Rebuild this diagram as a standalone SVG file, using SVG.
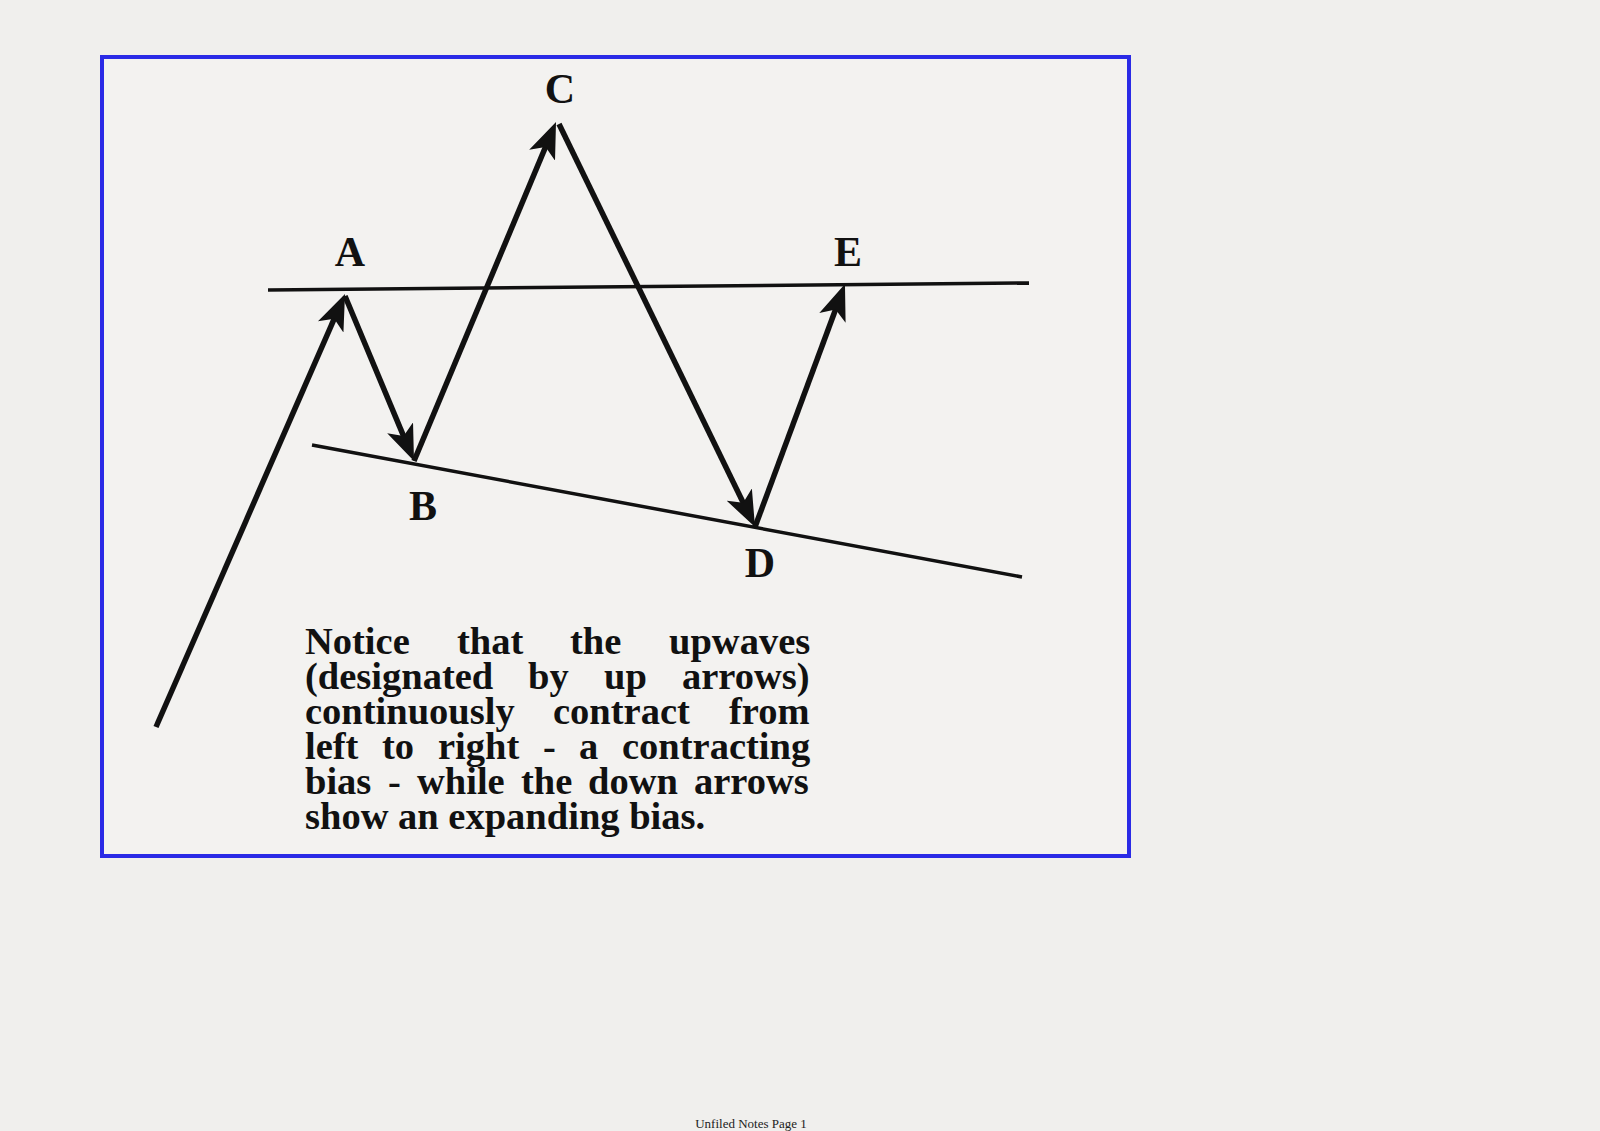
<svg xmlns="http://www.w3.org/2000/svg" width="1600" height="1131" viewBox="0 0 1600 1131">
<style>
.lbl{font-family:"Liberation Serif","Times New Roman",serif;font-weight:bold;font-size:42px;fill:#111;text-anchor:middle}
.body{font-family:"Liberation Serif","Times New Roman",serif;font-weight:bold;font-size:38.5px;fill:#111}
.wave{stroke:#111;stroke-width:5.5;fill:none;stroke-linecap:butt}
.trend{stroke:#111;stroke-width:3.5;fill:none}
.foot{font-family:"Liberation Serif","Times New Roman",serif;font-size:13px;fill:#222;text-anchor:middle}
</style>
<defs>
<marker id="ah" viewBox="0 0 36 28" refX="22" refY="14" markerWidth="36" markerHeight="28" markerUnits="userSpaceOnUse" orient="auto">
<path d="M0,0 L36,14 L0,28 L9,14 z" fill="#111"/>
</marker>
</defs>
<rect x="0" y="0" width="1600" height="1131" fill="#f0efed"/>
<rect id="frame" x="102" y="57" width="1027" height="799" fill="#f3f2f0" stroke="#2a2ae6" stroke-width="4"/>
<g id="connectors">
<line class="trend" x1="268" y1="290" x2="1029" y2="283"/>
<line class="trend" x1="312" y1="445" x2="1022" y2="577"/>
<line class="wave" x1="156" y1="727" x2="339.4" y2="306.8" marker-end="url(#ah)"/>
<line class="wave" x1="345" y1="296" x2="408.6" y2="448.1" marker-end="url(#ah)"/>
<line class="wave" x1="414" y1="461" x2="550.6" y2="134.9" marker-end="url(#ah)"/>
<line class="wave" x1="559" y1="124" x2="748.9" y2="514.4" marker-end="url(#ah)"/>
<line class="wave" x1="755" y1="527" x2="840.1" y2="297.2" marker-end="url(#ah)"/>
</g>
<g id="node-A"><text class="lbl" x="350" y="266">A</text></g>
<g id="node-B"><text class="lbl" x="423" y="520">B</text></g>
<g id="node-C"><text class="lbl" x="560" y="103">C</text></g>
<g id="node-D"><text class="lbl" x="760" y="577">D</text></g>
<g id="node-E"><text class="lbl" x="848" y="266">E</text></g>
<g id="note" class="body">
<text y="654"><tspan x="305">Notice</tspan><tspan x="457">that</tspan><tspan x="570">the</tspan><tspan x="669">upwaves</tspan></text>
<text y="689"><tspan x="305">(designated</tspan><tspan x="528">by</tspan><tspan x="604">up</tspan><tspan x="682">arrows)</tspan></text>
<text y="724"><tspan x="305">continuously</tspan><tspan x="553">contract</tspan><tspan x="729">from</tspan></text>
<text y="759"><tspan x="305">left</tspan><tspan x="382">to</tspan><tspan x="438">right</tspan><tspan x="543">-</tspan><tspan x="579">a</tspan><tspan x="622">contracting</tspan></text>
<text y="794"><tspan x="305">bias</tspan><tspan x="388">-</tspan><tspan x="417">while</tspan><tspan x="521">the</tspan><tspan x="588">down</tspan><tspan x="694">arrows</tspan></text>
<text y="829" x="305">show an expanding bias.</text>
</g>
<text class="foot" x="751" y="1128">Unfiled Notes Page 1</text>
</svg>
